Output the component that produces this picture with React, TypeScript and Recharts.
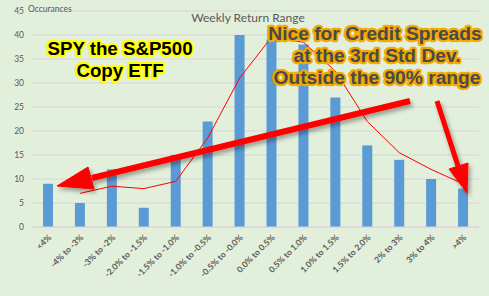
import React from "react";
import {
  ComposedChart, Bar, Line, XAxis, YAxis, CartesianGrid,
} from "recharts";

const BG = "#e2efda";
const BLUE = "#5b9bd5";
const GRID = "#d9d4dc";
const TXT = "#595959";
const FONT = "Lato, 'Open Sans', sans-serif";

const ranges = [
  "<4%", "-4% to -3%", "-3% to -2%", "-2.0% to -1.5%", "-1.5% to -1.0%",
  "-1.0% to -0.5%", "-0.5% to -0.0%", "0.0% to 0.5%", "0.5% to 1.0%",
  "1.0% to 1.5%", "1.5% to 2.0%", "2% to 3%", "3% to 4%", ">4%",
];
const occurances = [9, 5, 12, 4, 15, 22, 40, 39, 38, 27, 17, 14, 10, 8];
const trend = [null, 7, 8.5, 8, 9.5, 18.5, 31, 39.5, 38.5, 32.5, 22, 15.5, 12, 9];
const yTicks = [0, 5, 10, 15, 20, 25, 30, 35, 40, 45];

const data = ranges.map((r, i) => ({ range: r, count: occurances[i], avg: trend[i] }));

function AngledTick({ x, y, payload }: any) {
  return (
    <text
      x={x + 4}
      y={y + 3}
      transform={`rotate(-45, ${x + 4}, ${y + 3})`}
      textAnchor="end"
      fontSize={8.5}
      fontWeight={700}
      fill={TXT}
      fontFamily={FONT}
    >
      {payload.value}
    </text>
  );
}

function Overlay() {
  return (
    <svg width={489} height={296} style={{ position: "absolute", left: 0, top: 0, pointerEvents: "none" }}>
      <defs>
        <filter id="shadow" x="-20%" y="-20%" width="140%" height="140%">
          <feDropShadow dx="2" dy="3" stdDeviation="2" floodColor="#000" floodOpacity="0.35" />
        </filter>
      </defs>
      <text x={28} y={12} fontSize={8.5} fill={TXT} fontFamily={FONT}>Occurances</text>
      <text x={248} y={22} textAnchor="middle" fontSize={12} fill={TXT} fontFamily={FONT}>Weekly Return Range</text>

      <g filter="url(#shadow)" fill="#ff0000" stroke="#ff0000">
        <line x1={410} y1={101} x2={92} y2={178} strokeWidth={6} />
        <polygon points="57,186 94,189 88,167" strokeWidth={1} />
        <line x1={437} y1={101} x2={458} y2={166} strokeWidth={5} />
        <polygon points="467,193 468,163 449,169" strokeWidth={1} />
      </g>

      <g fontFamily="'Liberation Sans', Arial, sans-serif" fontWeight={700} fontSize={18.7} textAnchor="middle"
        stroke="#ffff00" strokeWidth={4.5} strokeLinejoin="round" paintOrder="stroke" fill="#000">
        <text x={120} y={55}>SPY the S&amp;P500</text>
        <text x={120} y={77}>Copy ETF</text>
      </g>
      <g fontFamily="'Liberation Sans', Arial, sans-serif" fontWeight={700} fontSize={19.2} textAnchor="middle"
        stroke="#f5a800" strokeWidth={4.5} strokeLinejoin="round" paintOrder="stroke" fill="#4a4a4a">
        <text x={375} y={40}>Nice for Credit Spreads</text>
        <text x={377} y={62}>at the 3rd Std Dev.</text>
        <text x={377} y={84}>Outside the 90% range</text>
      </g>
    </svg>
  );
}

export default function App() {
  return (
    <div style={{ position: "fixed", left: 0, top: 0, width: 489, height: 296, background: BG }}>
      <ComposedChart
        width={489}
        height={296}
        data={data}
        margin={{ top: 11, right: 10, bottom: 0, left: 0 }}
        barCategoryGap={0}
      >
        <CartesianGrid stroke={GRID} vertical={false} />
        <XAxis
          dataKey="range"
          interval={0}
          tick={<AngledTick />}
          tickLine={false}
          axisLine={{ stroke: GRID }}
          height={69}
        />
        <YAxis
          domain={[0, 45]}
          ticks={yTicks}
          tick={{ fill: TXT, fontSize: 8.5, fontFamily: FONT }}
          tickLine={false}
          axisLine={false}
          width={32}
        />
        <Bar dataKey="count" fill={BLUE} barSize={10} isAnimationActive={false} />
        <Line
          type="linear"
          dataKey="avg"
          stroke="#ff0000"
          strokeWidth={1}
          dot={false}
          isAnimationActive={false}
        />
      </ComposedChart>
      <Overlay />
    </div>
  );
}
